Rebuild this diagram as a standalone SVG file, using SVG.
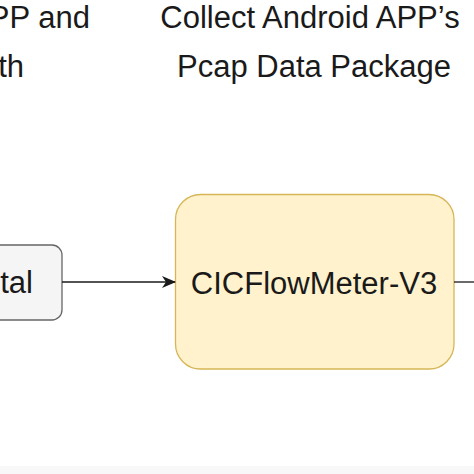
<svg xmlns="http://www.w3.org/2000/svg" width="474" height="474" viewBox="0 0 474 474">
  <defs>
    <style>
      .t { font-family: "Liberation Sans", Arial, sans-serif; font-size: 31px; fill: #1a1a1a; }
      .edge { stroke: #1a1a1a; stroke-width: 1.3; fill: none; }
    </style>
    <marker id="arrow" viewBox="0 0 14 12" refX="13" refY="6" markerWidth="14" markerHeight="12" markerUnits="userSpaceOnUse" orient="auto">
      <path d="M0,0 L14,6 L0,12 L4,6 Z" fill="#1a1a1a"/>
    </marker>
  </defs>
  <rect width="474" height="474" fill="#ffffff"/>
  <rect x="0" y="466" width="474" height="8" fill="#f8f8f8"/>
  <g id="label-left">
    <text class="t" x="90" y="28" text-anchor="end">PP and</text>
    <text class="t" x="24" y="77" text-anchor="end">th</text>
  </g>
  <g id="label-right">
    <text class="t" x="310" y="28" text-anchor="middle">Collect Android APP’s</text>
    <text class="t" x="314" y="77" text-anchor="middle">Pcap Data Package</text>
  </g>
  <g id="node-left">
    <rect x="-40" y="245" width="102" height="75" rx="10" ry="10" fill="#f5f5f5" stroke="#666666" stroke-width="1.3"/>
    <text class="t" x="33" y="293" text-anchor="end">tal</text>
  </g>
  <g id="node-cicflowmeter">
    <rect x="175.5" y="194.5" width="278.5" height="174.5" rx="25" ry="25" fill="#fff2cc" stroke="#d6b656" stroke-width="1.3"/>
    <text class="t" x="314" y="294" text-anchor="middle">CICFlowMeter-V3</text>
  </g>
  <g id="connectors">
    <line class="edge" x1="62" y1="282" x2="175" y2="282" marker-end="url(#arrow)"/>
    <line class="edge" x1="454" y1="282" x2="474" y2="282"/>
  </g>
</svg>
